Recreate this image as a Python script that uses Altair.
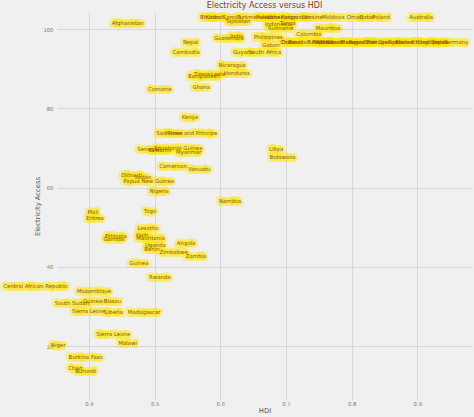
import altair as alt
import pandas as pd

countries = [
    "Afghanistan", "Bhutan", "Kiribati", "Samoa", "Tajikistan", "Turkmenistan", "Palestine",
    "Uzbekistan", "Kyrgyzstan", "Ukraine", "Moldova", "Oman", "Qatar", "Poland", "Australia",
    "Indonesia", "Tonga", "Suriname", "Mauritius",
    "China", "Brazil", "Dominican Republic", "Tunisia", "Mexico", "Thailand", "Kazakhstan",
    "Malaysia", "Argentina", "Chile", "Portugal", "Greece", "Spain", "France",
    "United Kingdom", "United States", "Japan", "Germany",
    "Nepal", "Cambodia", "Guatemala", "India", "Guyana", "South Africa", "Philippines",
    "Gabon", "Colombia", "Nicaragua", "Bangladesh", "Timor-Leste", "Honduras", "Comoros",
    "Ghana", "Kenya", "Sao Tome and Principe", "Yemen", "Senegal", "Eswatini",
    "Equatorial Guinea", "Myanmar", "Cameroon", "Vanuatu", "Djibouti", "Sudan",
    "Papua New Guinea", "Nigeria", "Namibia", "Libya", "Botswana", "Togo", "Mali", "Eritrea",
    "Lesotho", "Ethiopia", "Gambia", "Haiti", "Mauritania", "Uganda", "Benin", "Zimbabwe",
    "Angola", "Zambia", "Guinea", "Rwanda", "Central African Republic", "Mozambique",
    "South Sudan", "Guinea-Bissau", "Sierra Leone", "Liberia", "Madagascar", "Sierra Leone",
    "Malawi", "Niger", "Burkina Faso", "Chad", "Burundi",
]
hdi = [
    0.459, 0.584, 0.592, 0.618, 0.627, 0.653, 0.673,
    0.694, 0.715, 0.740, 0.772, 0.805, 0.823, 0.845, 0.906,
    0.688, 0.703, 0.692, 0.764,
    0.703, 0.715, 0.734, 0.746, 0.758, 0.770, 0.785,
    0.801, 0.816, 0.828, 0.840, 0.855, 0.868, 0.880,
    0.901, 0.919, 0.935, 0.959,
    0.555, 0.548, 0.613, 0.625, 0.635, 0.668, 0.673,
    0.677, 0.735, 0.618, 0.575, 0.584, 0.625, 0.508,
    0.571, 0.554, 0.549, 0.529, 0.490, 0.508,
    0.536, 0.552, 0.528, 0.568, 0.465, 0.482,
    0.491, 0.507, 0.615, 0.685, 0.695, 0.493, 0.406, 0.409,
    0.490, 0.441, 0.438, 0.481, 0.494, 0.501, 0.496, 0.529,
    0.548, 0.563, 0.476, 0.508, 0.319, 0.408,
    0.374, 0.420, 0.400, 0.438, 0.484, 0.437,
    0.459, 0.353, 0.395, 0.379, 0.395,
]
access = [
    101.5, 103.0, 103.0, 103.0, 102.0, 103.0, 103.0,
    103.0, 103.0, 103.0, 103.0, 103.0, 103.0, 103.0, 103.0,
    101.3, 101.5, 100.3, 100.3,
    96.7, 96.7, 96.7, 96.7, 96.7, 96.7, 96.7,
    96.7, 96.7, 96.7, 96.7, 96.7, 96.7, 96.7,
    96.7, 96.7, 96.7, 96.7,
    96.7, 94.2, 97.7, 98.2, 94.2, 94.2, 98.0,
    96.0, 98.7, 90.9, 88.1, 88.7, 88.9, 84.9,
    85.4, 77.8, 73.8, 73.8, 69.7, 69.5,
    70.0, 69.0, 65.5, 64.7, 63.2, 62.7,
    61.7, 59.2, 56.6, 69.7, 67.7, 54.1, 53.9, 52.3,
    49.8, 47.8, 47.0, 48.1, 47.3, 45.5, 44.5, 43.8,
    46.0, 42.8, 41.0, 37.5, 35.2, 33.9,
    30.9, 31.4, 28.9, 28.6, 28.6, 23.1,
    20.8, 20.3, 17.3, 14.5, 13.8,
]
x_ticks = [0.4, 0.5, 0.6, 0.7, 0.8, 0.9]
y_ticks = [20, 40, 60, 80, 100]

df = pd.DataFrame({"country": countries, "hdi": hdi, "access": access})

FONT = "DejaVu Sans"
base = alt.Chart(df).encode(
    x=alt.X(
        "hdi:Q",
        scale=alt.Scale(domain=[0.3513, 0.9833], nice=False, zero=False),
        axis=alt.Axis(
            values=x_ticks, format=".1f", title="HDI", grid=True, ticks=False,
            domain=False, labelPadding=1, titlePadding=1, labelFontSize=5.3,
            titleFontSize=6.8, titleFontWeight="normal", labelColor="#7d7d5c",
            titleColor="#555555", gridColor="#d0d0d0", gridWidth=0.8,
            labelFont=FONT, titleFont=FONT,
        ),
    ),
    y=alt.Y(
        "access:Q",
        scale=alt.Scale(domain=[6.46, 104.3], nice=False, zero=False),
        axis=alt.Axis(
            values=y_ticks, title="Electricity Access", grid=True, ticks=False,
            domain=False, labelPadding=4, titlePadding=2, labelFontSize=5.3,
            titleFontSize=6.8, titleFontWeight="normal", labelColor="#7d7d5c",
            titleColor="#555555", gridColor="#d0d0d0", gridWidth=0.8,
            labelFont=FONT, titleFont=FONT,
        ),
    ),
    text="country:N",
)

halo = base.mark_text(
    font=FONT, fontSize=5.4, align="center", baseline="middle",
    fill="#ffe600", fillOpacity=0.38, stroke="#ffe600", strokeOpacity=0.38,
    strokeWidth=6, strokeJoin="round",
)
labels = base.mark_text(
    font=FONT, fontSize=5.4, align="center", baseline="middle", color="#8c5a14",
)

chart = (
    alt.layer(halo, labels)
    .properties(
        width=415,
        height=388,
        title=alt.TitleParams(
            "Electricity Access versus HDI", fontSize=8, color="#8b3a1a",
            font=FONT, fontWeight="normal", anchor="middle", offset=2,
            baseline="bottom", frame="group", dy=8,
        ),
        autosize=alt.AutoSizeParams(type="none"),
        padding={"left": 57, "top": 12, "right": 2, "bottom": 17},
        background="#f0f0f0",
    )
    .configure_view(stroke=None, fill="#f0f0f0")
)

chart.save("out.html", embed_options={"renderer": "svg", "actions": False})
